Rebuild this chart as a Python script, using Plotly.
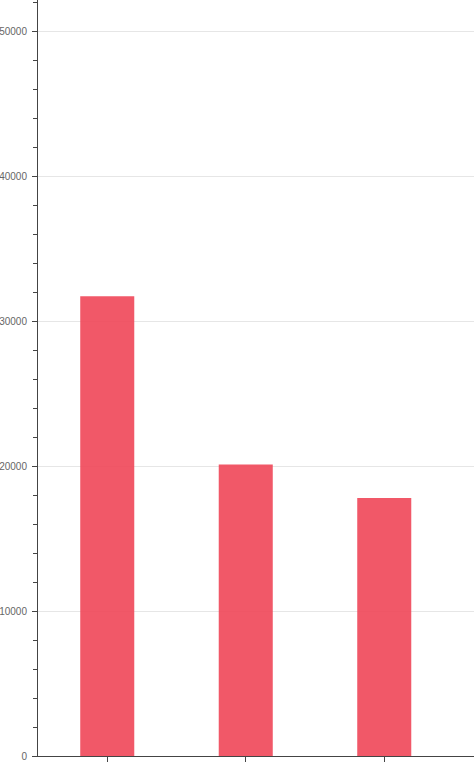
import plotly.graph_objects as go

# valeurs
categories = ["A", "B", "C"]
values = [31700, 20100, 17800]

fig = go.Figure()

fig.add_trace(go.Bar(
    x=categories, y=values,
    marker=dict(color="rgba(240,70,88,0.9)", line=dict(width=0)),
    width=0.39,
))

fig.update_layout(
    width=474, height=762,
    margin=dict(l=38, r=0, t=0, b=6),
    plot_bgcolor="white", paper_bgcolor="white",
    showlegend=False,
    font=dict(family="Liberation Sans, Arial", size=10, color="#666666"),
)

fig.update_xaxes(
    range=[-0.5, 2.648],
    showgrid=False, showline=True, linecolor="#444444", linewidth=1,
    ticks="outside", ticklen=5, tickcolor="#444444",
    showticklabels=False,
    automargin=False,
)

fig.update_yaxes(
    range=[0, 52140],
    dtick=10000, tickformat="d",
    showgrid=True, gridcolor="#e6e6e6", gridwidth=1,
    showline=True, linecolor="#444444", linewidth=1,
    ticks="outside", ticklen=5, tickcolor="#444444",
    zeroline=False,
    minor=dict(dtick=2000, ticks="outside", ticklen=4, tickcolor="#444444", showgrid=False),
    ticklabelstandoff=3,
    automargin=False,
)

# pas de marge autour du graphique dans la page
fig.write_html(
    "out.html",
    config={"displayModeBar": False},
    post_script="document.body.style.margin='0';document.body.style.overflow='hidden';",
)
